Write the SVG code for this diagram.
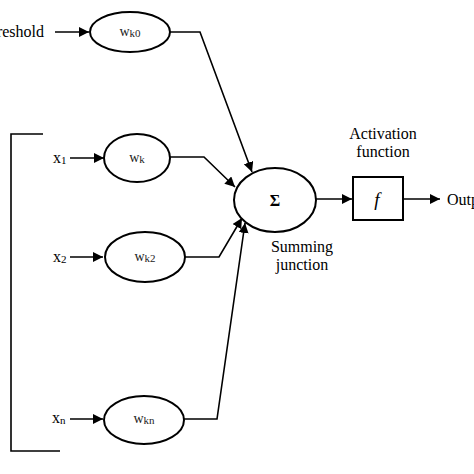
<svg xmlns="http://www.w3.org/2000/svg" width="474" height="474" viewBox="0 0 474 474">
<defs>
<style>
.n{fill:#fff;stroke:#000;stroke-width:2}
.c{fill:none;stroke:#000;stroke-width:1.6}
.t{font-family:"Liberation Serif",serif;font-size:16px;fill:#000}
.w{font-family:"Liberation Serif",serif;font-size:14px;fill:#222}
.s{font-size:11px}
</style>
<marker id="a" viewBox="0 0 10 10" refX="10" refY="5" markerWidth="10" markerHeight="10" markerUnits="userSpaceOnUse" orient="auto"><path d="M0,0 L10,5 L0,10 z" fill="#000"/></marker>
</defs>
<rect width="474" height="474" fill="#fff"/>
<g id="connectors">
<line class="c" x1="55" y1="32" x2="89" y2="32" marker-end="url(#a)"/>
<polyline class="c" points="170,32 200,32 252,172" marker-end="url(#a)"/>
<line class="c" x1="70" y1="158" x2="104" y2="158" marker-end="url(#a)"/>
<polyline class="c" points="170,157 204,157 235,187" marker-end="url(#a)"/>
<line class="c" x1="70" y1="257" x2="103" y2="257" marker-end="url(#a)"/>
<polyline class="c" points="185,257 219,257 242,218" marker-end="url(#a)"/>
<line class="c" x1="70" y1="419" x2="103" y2="419" marker-end="url(#a)"/>
<polyline class="c" points="184,419 217,419 245,223" marker-end="url(#a)"/>
<line class="c" x1="316" y1="199" x2="352" y2="199" marker-end="url(#a)"/>
<line class="c" x1="403" y1="199" x2="440" y2="199" marker-end="url(#a)"/>
<polyline class="c" points="43,134 11,134 11,451 60,451"/>
</g>
<g id="threshold"><text class="t" x="44" y="37" text-anchor="end" font-size="15">reshold</text></g>
<g id="x1"><text class="t" x="53" y="163">x<tspan class="s" dy="1">1</tspan></text></g>
<g id="x2"><text class="t" x="53" y="262">x<tspan class="s" dy="1">2</tspan></text></g>
<g id="xn"><text class="t" x="52" y="423">x<tspan class="s" dy="1">n</tspan></text></g>
<g id="wk0"><ellipse class="n" cx="130" cy="32" rx="40" ry="20"/><text class="w" x="130" y="36" text-anchor="middle">w<tspan class="s" dy="1">k0</tspan></text></g>
<g id="wk"><ellipse class="n" cx="137" cy="158" rx="33" ry="24"/><text class="w" x="137" y="162" text-anchor="middle">w<tspan class="s" dy="1">k</tspan></text></g>
<g id="wk2"><ellipse class="n" cx="145" cy="257" rx="40" ry="25"/><text class="w" x="145" y="261" text-anchor="middle">w<tspan class="s" dy="1">k2</tspan></text></g>
<g id="wkn"><ellipse class="n" cx="144" cy="420" rx="40" ry="24"/><text class="w" x="144" y="423" text-anchor="middle">w<tspan class="s" dy="1">kn</tspan></text></g>
<g id="sum"><ellipse class="n" cx="275" cy="200" rx="41" ry="32"/><text x="275" y="206" text-anchor="middle" font-family="Liberation Serif,serif" font-size="16" font-weight="bold">Σ</text>
<text class="t" x="302" y="252" text-anchor="middle">Summing</text><text class="t" x="302" y="270" text-anchor="middle">junction</text></g>
<g id="act"><rect class="n" x="353" y="177" width="50" height="43"/><text x="377" y="206" text-anchor="middle" font-family="Liberation Serif,serif" font-size="19" font-style="italic">f</text>
<text class="t" x="383" y="139" text-anchor="middle">Activation</text><text class="t" x="383" y="157" text-anchor="middle">function</text></g>
<g id="output"><text class="t" x="447" y="205">Output</text></g>
</svg>
